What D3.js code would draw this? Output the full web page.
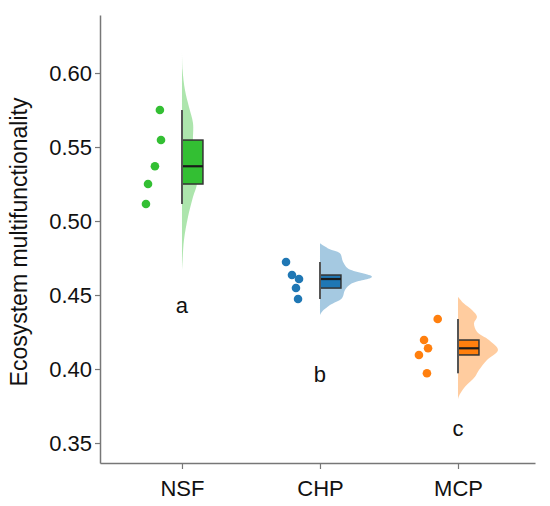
<!DOCTYPE html>
<html lang="en">
<head>
    <meta charset="UTF-8">
    <title>Ecosystem multifunctionality</title>
    <script src="https://cdn.jsdelivr.net/npm/d3@7/dist/d3.min.js"></script>
    <style>
        body { margin: 0; background: #fff; }
        #chart { width: 550px; height: 506px; }
        text { font-family: "Liberation Sans", Arial, sans-serif; }
    </style>
</head>
<body>
    <div id="chart"></div>
    <script>
        // categories and letters
        const categories = ['NSF', 'CHP', 'MCP'];
        const letters = ['a', 'b', 'c'];
        const letterValues = [0.4378, 0.3912, 0.3547];
        const colors = ['#33bf33', '#1f77b4', '#ff7f0e'];

        // raw points per group
        const nsfValues = [0.5750, 0.5547, 0.5370, 0.5250, 0.5115];
        const chpValues = [0.4723, 0.4635, 0.4608, 0.4547, 0.4473];
        const mcpValues = [0.4338, 0.4196, 0.4140, 0.4095, 0.3971];
        // horizontal jitter of the points, in category units
        const nsfJitter = [-0.160, -0.152, -0.196, -0.246, -0.261];
        const chpJitter = [-0.246, -0.203, -0.152, -0.174, -0.159];
        const mcpJitter = [-0.147, -0.246, -0.217, -0.283, -0.225];

        // half violin profiles: [value, density]
        const nsfDensity = [[0.6190, 0], [0.6020, 0.9], [0.5885, 4.5], [0.5770, 10.5], [0.5662, 16.5],
            [0.5547, 16.5], [0.5324, 18], [0.5257, 22.5], [0.5162, 16.5], [0.5027, 9],
            [0.4872, 3], [0.4736, 0.9], [0.4660, 0]];
        const chpDensity = [[0.4849, 0], [0.4815, 12], [0.4782, 30], [0.4725, 34.5], [0.4680, 42],
            [0.4624, 78], [0.4579, 48], [0.4534, 37.5], [0.4478, 33], [0.4432, 15],
            [0.4387, 3], [0.4365, 0]];
        const mcpDensity = [[0.4489, 0], [0.4444, 8.5], [0.4399, 21], [0.4353, 28.5], [0.4309, 24],
            [0.4252, 28.5], [0.4196, 46.5], [0.4128, 60], [0.4061, 43.5], [0.3993, 31.5],
            [0.3948, 25.5], [0.3880, 10.5], [0.3813, 1], [0.3791, 0]];

        const yTicks = [0.35, 0.40, 0.45, 0.50, 0.55, 0.60];

        const groups = [
            { values: nsfValues, jitter: nsfJitter, density: nsfDensity },
            { values: chpValues, jitter: chpJitter, density: chpDensity },
            { values: mcpValues, jitter: mcpJitter, density: mcpDensity }
        ];

        const width = 550;
        const height = 506;

        const svg = d3.select('#chart')
            .append('svg')
            .attr('width', width)
            .attr('height', height);

        const x = d3.scaleLinear().domain([-0.594, 2.558]).range([100, 535]);
        const y = d3.scaleLinear().domain([0.3365, 0.6392]).range([463, 15]);
        const w = d3.scaleLinear().domain([0, 78]).range([0, 52]);
        const boxWidth = 0.152;

        // axes
        const yAxis = d3.axisLeft(y)
            .tickValues(yTicks)
            .tickFormat(d3.format('.2f'))
            .tickSize(5)
            .tickSizeOuter(0)
            .tickPadding(3);
        const xAxis = d3.axisBottom(x)
            .tickValues([0, 1, 2])
            .tickFormat(i => categories[i])
            .tickSize(6)
            .tickSizeOuter(0)
            .tickPadding(11);

        const gy = svg.append('g')
            .attr('transform', 'translate(100,0)')
            .call(yAxis);
        const gx = svg.append('g')
            .attr('transform', 'translate(0,463)')
            .call(xAxis);

        [gx, gy].forEach(g => {
            g.select('.domain').attr('stroke', '#777').attr('stroke-width', 1.5);
            g.selectAll('.tick line').attr('stroke', '#777').attr('stroke-width', 1.2);
            g.selectAll('.tick text')
                .attr('fill', '#111')
                .style('font-family', '"Liberation Sans", Arial, sans-serif')
                .style('font-size', '22px');
        });

        svg.append('text')
            .attr('transform', 'translate(27,242) rotate(-90)')
            .attr('text-anchor', 'middle')
            .style('font-size', '23px')
            .attr('fill', '#111')
            .text('Ecosystem multifunctionality');

        groups.forEach((g, i) => {
            const color = colors[i];
            const cx = x(i);

            // half violin
            const area = d3.area()
                .y(d => y(d[0]))
                .x0(cx)
                .x1(d => cx + w(d[1]))
                .curve(d3.curveCatmullRom);
            svg.append('path')
                .datum(g.density)
                .attr('d', area)
                .attr('fill', color)
                .attr('fill-opacity', 0.4);

            // points
            svg.selectAll('.pt' + i)
                .data(g.values)
                .enter()
                .append('circle')
                .attr('cx', (d, j) => x(i + g.jitter[j]))
                .attr('cy', d => y(d))
                .attr('r', 4.3)
                .attr('fill', color);

            // box plot
            const sorted = g.values.slice().sort(d3.ascending);
            const q1 = d3.quantile(sorted, 0.25);
            const med = d3.quantile(sorted, 0.5);
            const q3 = d3.quantile(sorted, 0.75);
            const lo = d3.min(sorted);
            const hi = d3.max(sorted);

            svg.append('rect')
                .attr('x', cx)
                .attr('y', y(q3))
                .attr('width', x(i + boxWidth) - cx)
                .attr('height', y(q1) - y(q3))
                .attr('fill', color)
                .attr('stroke', '#333')
                .attr('stroke-width', 1.5);
            svg.append('line')
                .attr('x1', cx).attr('x2', x(i + boxWidth))
                .attr('y1', y(med)).attr('y2', y(med))
                .attr('stroke', '#1a1a1a')
                .attr('stroke-width', 2.2);
            svg.append('line')
                .attr('x1', cx).attr('x2', cx)
                .attr('y1', y(hi)).attr('y2', y(lo))
                .attr('stroke', '#555')
                .attr('stroke-width', 2);

            // significance letter
            svg.append('text')
                .attr('x', cx)
                .attr('y', y(letterValues[i]))
                .attr('text-anchor', 'middle')
                .style('font-size', '22px')
                .attr('fill', '#111')
                .text(letters[i]);
        });
    </script>
</body>
</html>
